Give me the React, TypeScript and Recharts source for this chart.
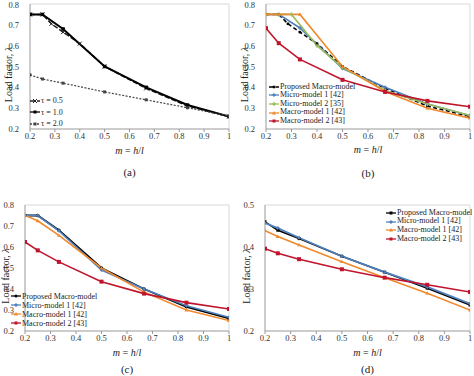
import React from 'react';
import { LineChart, Line, XAxis, YAxis, ReferenceLine, Legend } from 'recharts';

// m = h/l sample points
const mMain = [0.2, 0.25, 0.333, 0.5, 0.667, 0.833, 1];
const mDense = [0.2, 0.25, 0.286, 0.333, 0.4, 0.5, 0.667, 0.833, 1];
const mGreen = [0.2, 0.25, 0.3, 0.4, 0.5, 0.667, 0.833, 1];
const mTicks = [0.2, 0.3, 0.4, 0.5, 0.6, 0.7, 0.8, 0.9, 1];
const yTicksWide = [0.2, 0.3, 0.4, 0.5, 0.6, 0.7, 0.8];
const yTicksNarrow = [0.2, 0.3, 0.4, 0.5];

// (a) proposed macro-model, three tau values
const tau05 = [0.75, 0.75, 0.705, 0.665, 0.61, 0.5, 0.395, 0.31, 0.26];
const tau10 = [0.75, 0.75, 0.68, 0.5, 0.4, 0.315, 0.26];
const tau20 = [0.46, 0.44, 0.42, 0.378, 0.34, 0.302, 0.262];

// (b) tau = 0.5
const bMicro1 = [0.75, 0.75, 0.685, 0.49, 0.4, 0.32, 0.265];
const bMicro2 = [0.75, 0.75, 0.75, 0.6, 0.495, 0.385, 0.32, 0.265];
const bMacro1 = [0.75, 0.75, 0.75, 0.5, 0.38, 0.3, 0.252];
const bMacro2 = [0.684, 0.612, 0.534, 0.436, 0.378, 0.335, 0.307];

// (c) tau = 1.0
const cMicro1 = [0.75, 0.75, 0.677, 0.49, 0.4, 0.32, 0.265];
const cMacro1 = [0.75, 0.725, 0.655, 0.5, 0.385, 0.3, 0.25];
const cMacro2 = [0.624, 0.584, 0.529, 0.435, 0.378, 0.335, 0.305];

// (d) tau = 2.0
const dMicro1 = [0.457, 0.445, 0.422, 0.378, 0.34, 0.305, 0.265];
const dMacro1 = [0.439, 0.425, 0.405, 0.365, 0.327, 0.29, 0.25];
const dMacro2 = [0.396, 0.385, 0.371, 0.347, 0.327, 0.31, 0.293];

const FONT = '"Liberation Serif", "Times New Roman", serif';
const BLUE = '#4f81bd';
const GREEN = '#9bbb59';
const ORANGE = '#f0892e';
const RED = '#c0142c';

type Marker = 'square' | 'diamond' | 'triangle' | 'cross' | 'plus' | 'circle';

interface Series {
  name: React.ReactNode;
  ms: number[];
  vs: number[];
  color: string;
  width: number;
  dash?: string;
  marker: Marker;
  size: number;
}

const zip = (ms: number[], vs: number[]) => ms.map((m, i) => ({ m, v: vs[i] }));

const drawMarker = (shape: Marker, cx: number, cy: number, color: string, s: number, key?: any) => {
  switch (shape) {
    case 'square':
      return <rect key={key} x={cx - s / 2} y={cy - s / 2} width={s} height={s} fill={color} />;
    case 'diamond':
      return (
        <polygon key={key} points={`${cx},${cy - s} ${cx + s},${cy} ${cx},${cy + s} ${cx - s},${cy}`} fill={color} />
      );
    case 'triangle':
      return (
        <polygon key={key} points={`${cx},${cy - s} ${cx + s},${cy + s * 0.7} ${cx - s},${cy + s * 0.7}`} fill={color} />
      );
    case 'cross':
      return (
        <g key={key} stroke={color} strokeWidth={1}>
          <line x1={cx - s} y1={cy - s} x2={cx + s} y2={cy + s} />
          <line x1={cx - s} y1={cy + s} x2={cx + s} y2={cy - s} />
        </g>
      );
    case 'plus':
      return (
        <g key={key} stroke={color} strokeWidth={1.2}>
          <line x1={cx - s} y1={cy} x2={cx + s} y2={cy} />
          <line x1={cx} y1={cy - s} x2={cx} y2={cy + s} />
        </g>
      );
    default:
      return <circle key={key} cx={cx} cy={cy} r={s / 2} fill={color} />;
  }
};

const makeDot = (s: Series) => (p: any) => {
  const { cx, cy, index } = p;
  if (cx == null || cy == null) return <g key={index} />;
  return drawMarker(s.marker, cx, cy, s.color, s.size, index);
};

interface PanelCfg {
  left: number;
  top: number;
  plotLeft: number;
  plotRight: number;
  plotTop: number;
  plotBottom: number;
  yDomain: [number, number];
  yTicks: number[];
  yTitleX: number;
  titleY: number;
  caption: string;
  captionY: number;
  legendX: number;
  legendY: number;
  legendRow: number;
  series: Series[];
}

const W = 237;
const H = 188;

const panels: PanelCfg[] = [
  {
    left: 0, top: 0, plotLeft: 30, plotRight: 229, plotTop: 4, plotBottom: 129,
    yDomain: [0.2, 0.8], yTicks: yTicksWide, yTitleX: 8, titleY: 150,
    caption: '(a)', captionY: 172, legendX: 30, legendY: 95, legendRow: 11.5,
    series: [
      { name: 'τ = 0.5', ms: mDense, vs: tau05, color: '#222', width: 1.5, dash: '5 2', marker: 'cross', size: 2 },
      { name: 'τ = 1.0', ms: mMain, vs: tau10, color: '#000', width: 2, marker: 'square', size: 3.5 },
      { name: 'τ = 2.0', ms: mMain, vs: tau20, color: '#444', width: 1.2, dash: '2 1.5', marker: 'square', size: 3 },
    ],
  },
  {
    left: 237, top: 0, plotLeft: 29, plotRight: 233, plotTop: 4, plotBottom: 129,
    yDomain: [0.2, 0.8], yTicks: yTicksWide, yTitleX: 7, titleY: 149,
    caption: '(b)', captionY: 173, legendX: 32, legendY: 82.5, legendRow: 8.6,
    series: [
      { name: 'Proposed Macro-model', ms: mDense, vs: tau05, color: '#000', width: 1.6, dash: '4 2.5', marker: 'square', size: 2.5 },
      { name: 'Micro-model 1 [42]', ms: mMain, vs: bMicro1, color: BLUE, width: 1.6, marker: 'diamond', size: 2 },
      { name: 'Micro-model 2 [35]', ms: mGreen, vs: bMicro2, color: GREEN, width: 1.6, marker: 'plus', size: 2 },
      { name: 'Macro-model 1 [42]', ms: mMain, vs: bMacro1, color: ORANGE, width: 1.6, marker: 'triangle', size: 2 },
      { name: 'Macro-model 2 [43]', ms: mMain, vs: bMacro2, color: RED, width: 1.6, marker: 'square', size: 4 },
    ],
  },
  {
    left: 0, top: 188, plotLeft: 25, plotRight: 229, plotTop: 17, plotBottom: 143,
    yDomain: [0.2, 0.8], yTicks: yTicksWide, yTitleX: 5, titleY: 164,
    caption: '(c)', captionY: 181, legendX: 11, legendY: 103.5, legendRow: 9,
    series: [
      { name: 'Proposed Macro-model', ms: mMain, vs: tau10, color: '#000', width: 1.8, marker: 'circle', size: 3.5 },
      { name: 'Micro-model 1 [42]', ms: mMain, vs: cMicro1, color: BLUE, width: 1.6, marker: 'diamond', size: 2 },
      { name: 'Macro-model 1 [42]', ms: mMain, vs: cMacro1, color: ORANGE, width: 1.6, marker: 'triangle', size: 2 },
      { name: 'Macro-model 2 [43]', ms: mMain, vs: cMacro2, color: RED, width: 1.6, marker: 'square', size: 4 },
    ],
  },
  {
    left: 237, top: 188, plotLeft: 28, plotRight: 233, plotTop: 17, plotBottom: 143,
    yDomain: [0.2, 0.5], yTicks: yTicksNarrow, yTitleX: 9, titleY: 164,
    caption: '(d)', captionY: 181, legendX: 149, legendY: 20.5, legendRow: 8.7,
    series: [
      { name: 'Proposed Macro-model', ms: mMain, vs: tau20, color: '#000', width: 1.6, marker: 'square', size: 3 },
      { name: 'Micro-model 1 [42]', ms: mMain, vs: dMicro1, color: BLUE, width: 1.8, marker: 'diamond', size: 2 },
      { name: 'Macro-model 1 [42]', ms: mMain, vs: dMacro1, color: ORANGE, width: 1.6, marker: 'triangle', size: 2 },
      { name: 'Macro-model 2 [43]', ms: mMain, vs: dMacro2, color: RED, width: 1.6, marker: 'square', size: 4 },
    ],
  },
];

const fmt = (v: number) => String(Number(v.toFixed(1)));

const tickStyle = { fontSize: 8.5, fontFamily: FONT, fill: '#333' };

const Panel = ({ cfg }: { cfg: PanelCfg }) => {
  const xAxisH = cfg.titleY + 5 - cfg.plotBottom;
  const midX = (cfg.plotLeft + cfg.plotRight) / 2;
  const midY = (cfg.plotTop + cfg.plotBottom) / 2 + 8;

  const XTitle = () => (
    <text x={midX} y={cfg.titleY + 3.5} textAnchor="middle" fontSize={10} fontFamily={FONT} fill="#222" style={{ fontFamily: FONT }}>
      <tspan fontStyle="italic">m</tspan> = <tspan fontStyle="italic">h</tspan>/<tspan fontStyle="italic">l</tspan>
    </text>
  );

  const YTitle = () => (
    <text
      x={cfg.yTitleX}
      y={midY}
      transform={`rotate(-90 ${cfg.yTitleX} ${midY})`}
      textAnchor="middle"
      dominantBaseline="central"
      fontSize={10}
      fill="#222"
      style={{ fontFamily: FONT }}
    >
      Load factor, <tspan fontStyle="italic">λ</tspan>
    </text>
  );

  const LegendBox = () => (
    <div style={{ fontFamily: FONT, fontSize: 8, color: '#222', lineHeight: `${cfg.legendRow}px` }}>
      {cfg.series.map((s, i) => (
        <div key={i} style={{ display: 'flex', alignItems: 'center', height: cfg.legendRow, whiteSpace: 'nowrap' }}>
          <svg width={10} height={8} style={{ marginRight: 1 }}>
            <line x1={0} y1={4} x2={10} y2={4} stroke={s.color} strokeWidth={1.3} strokeDasharray={s.dash} />
            {drawMarker(s.marker, 5, 4, s.color, Math.min(s.size, 3))}
          </svg>
          <span>{s.name}</span>
        </div>
      ))}
    </div>
  );

  return (
    <div style={{ position: 'absolute', left: cfg.left, top: cfg.top, width: W, height: H, fontFamily: FONT }}>
      <LineChart
        width={W}
        height={H}
        style={{ fontFamily: FONT }}
        margin={{ top: cfg.plotTop, right: W - cfg.plotRight, left: 0, bottom: H - cfg.plotBottom - xAxisH }}
      >
        <ReferenceLine y={cfg.yDomain[1]} stroke="#d9d9d9" />
        <ReferenceLine x={1} stroke="#d9d9d9" />
        <XAxis
          type="number"
          dataKey="m"
          domain={[0.2, 1]}
          ticks={mTicks}
          allowDataOverflow
          height={xAxisH}
          stroke="#999"
          tickSize={3}
          tickMargin={1}
          tickFormatter={fmt}
          tick={tickStyle}
          label={<XTitle />}
        />
        <YAxis
          type="number"
          domain={cfg.yDomain}
          ticks={cfg.yTicks}
          allowDataOverflow
          width={cfg.plotLeft}
          stroke="#999"
          tickLine={false}
          tickMargin={5}
          tickFormatter={fmt}
          tick={tickStyle}
          label={<YTitle />}
        />
        {cfg.series.map((s, i) => (
          <Line
            key={i}
            data={zip(s.ms, s.vs)}
            dataKey="v"
            type="linear"
            stroke={s.color}
            strokeWidth={s.width}
            strokeDasharray={s.dash}
            dot={makeDot(s)}
            activeDot={false}
            isAnimationActive={false}
            legendType="none"
          />
        ))}
        <Legend
          layout="vertical"
          align="center"
          verticalAlign="middle"
          wrapperStyle={{ left: cfg.legendX, top: cfg.legendY, width: 'auto' }}
          content={() => <LegendBox />}
        />
      </LineChart>
      <div
        style={{
          position: 'absolute',
          left: midX - 20,
          width: 40,
          top: cfg.captionY - 6,
          textAlign: 'center',
          fontFamily: FONT,
          fontSize: 11,
          lineHeight: '12px',
          color: '#222',
        }}
      >
        {cfg.caption}
      </div>
    </div>
  );
};

export default function App() {
  return (
    <div style={{ position: 'absolute', left: 0, top: 0, width: 474, height: 376, background: '#fff', overflow: 'hidden' }}>
      {panels.map((p, i) => (
        <Panel key={i} cfg={p} />
      ))}
    </div>
  );
}
